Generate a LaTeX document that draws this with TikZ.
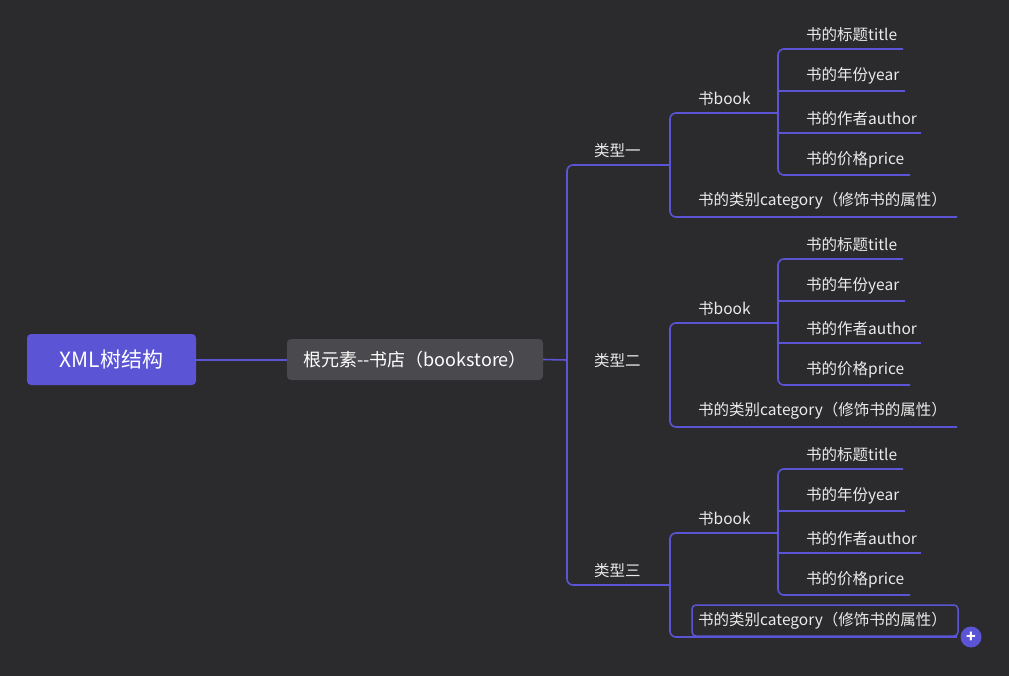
\documentclass[tikz,border=0pt]{standalone}
\usepackage{fontspec}
\setmainfont{Noto Sans CJK SC}
\begin{document}
\begin{tikzpicture}[x=1pt,y=-1pt,
  ln/.style={draw=lc,line width=1.6pt,rounded corners=6pt},
  lbl/.style={text=white!92!black,font=\fontsize{15.5}{17}\selectfont,anchor=south west,inner sep=0pt,yshift=7pt}]
\definecolor{bg}{HTML}{2B2B2D}
\definecolor{lc}{HTML}{5B55D6}
\definecolor{n2}{HTML}{4A494E}
\fill[bg] (0,0) rectangle (1009,676);
\useasboundingbox (0,0) rectangle (1009,676);
\node[fill=lc,rounded corners=4pt,minimum width=169pt,minimum height=51pt,text=white,font=\fontsize{21}{23}\selectfont] (root) at (111.5,359.5) {XML树结构};
\node[fill=n2,rounded corners=4pt,minimum width=256pt,minimum height=41pt,text=white,font=\fontsize{18}{20}\selectfont] (bs) at (415,359.5) {根元素-{}-书店（bookstore）};
\draw[draw=lc,line width=2pt] (root.east) -- (bs.west);
\coordinate (t) at (567,360);
\draw[draw=lc,line width=1.6pt] (bs.east) -- (t);
\draw[ln] (670,165) -- (567,165) -- (567,585) -- (670,585);
\foreach \n/\name in {0/类型一,1/类型二,2/类型三}{
  \pgfmathsetmacro{\o}{210*\n}
  \node[lbl] (ty\n) at (594,165+\o) {\name};
  \draw[ln] (778,113+\o) -- (670,113+\o) -- (670,217+\o) -- (957,217+\o);
  \node[lbl] (bk\n) at (698,113+\o) {书book};
  \node[lbl] (cat\n) at (698,217+\o) {书的类别category（修饰书的属性）};
  \draw[ln] (903,49+\o) -- (778,49+\o) -- (778,175+\o) -- (910,175+\o);
  \draw[ln] (778,91+\o) -- (905,91+\o);
  \draw[ln] (778,133+\o) -- (921,133+\o);
  \node[lbl] (a\n) at (806,49+\o) {书的标题title};
  \node[lbl] (b\n) at (806,91+\o) {书的年份year};
  \node[lbl] (c\n) at (806,133+\o) {书的作者author};
  \node[lbl] (d\n) at (806,175+\o) {书的价格price};
}
\draw[lc,line width=1.5pt,rounded corners=4pt] (692,605) rectangle (958,636);
\node[circle,fill=lc,minimum size=21pt,inner sep=0pt,text=white,font=\bfseries\fontsize{16}{16}\selectfont] (plus) at (971,637) {+};
\end{tikzpicture}
\end{document}
